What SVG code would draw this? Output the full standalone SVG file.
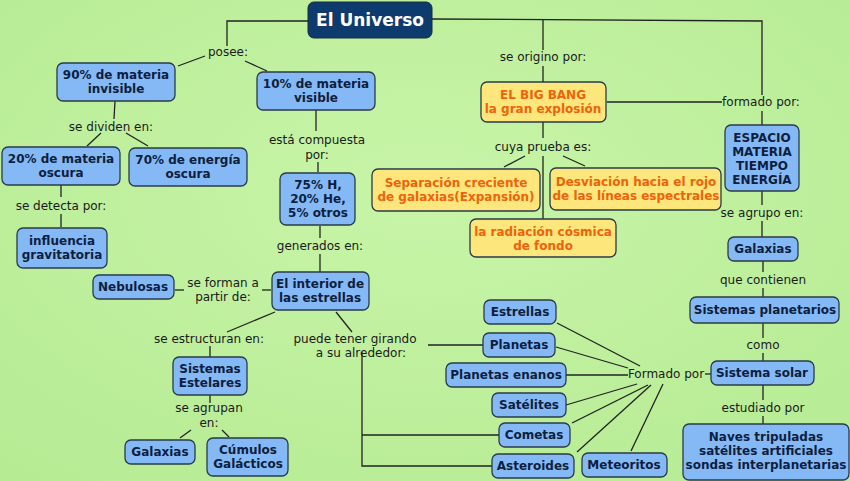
<svg xmlns="http://www.w3.org/2000/svg" width="850" height="481" viewBox="0 0 850 481">
<defs>
<radialGradient id="bg" cx="0.5" cy="0.4" r="0.8"><stop offset="0" stop-color="#c8f5a8"/><stop offset="1" stop-color="#b5ea92"/></radialGradient>
<style>
.n{fill:#84b9f6;stroke:#2a3a4a;stroke-width:1.3}
.y{fill:#fde77c;stroke:#2a3a4a;stroke-width:1.3}
.t{font-family:"DejaVu Sans",Verdana,sans-serif;font-weight:bold;font-size:12px;fill:#0e1e3e;text-anchor:middle}
.o{font-family:"DejaVu Sans",Verdana,sans-serif;font-weight:bold;font-size:12px;fill:#f0620a;text-anchor:middle}
.l{font-family:"DejaVu Sans",Verdana,sans-serif;font-size:12px;fill:#1a1a1a;text-anchor:middle}
#c line,#c polyline{stroke:#222;stroke-width:1.3;fill:none}
</style>
</defs>
<rect width="850" height="481" fill="url(#bg)"/>
<g id="c">
<polyline points="308,21 227,21 227,46"/>
<line x1="205" y1="56" x2="178" y2="66"/>
<line x1="245" y1="61" x2="267" y2="71"/>
<polyline points="432,19 762,21 762,95"/>
<line x1="543" y1="19" x2="543" y2="50"/>
<line x1="543" y1="66" x2="543" y2="82"/>
<line x1="607" y1="102" x2="722" y2="102"/>
<line x1="762" y1="111" x2="762" y2="125"/>
<line x1="543" y1="122" x2="543" y2="138"/>
<line x1="525" y1="156" x2="504" y2="167"/>
<line x1="563" y1="156" x2="585" y2="166"/>
<line x1="543" y1="156" x2="543" y2="219"/>
<line x1="115" y1="101" x2="114" y2="119"/>
<line x1="101" y1="133" x2="87" y2="146"/>
<line x1="126" y1="133" x2="148" y2="146"/>
<line x1="61" y1="185" x2="61" y2="197"/>
<line x1="61" y1="214" x2="61" y2="227"/>
<line x1="316" y1="110" x2="316" y2="131"/>
<line x1="318" y1="162" x2="318" y2="172"/>
<line x1="320" y1="226" x2="320" y2="238"/>
<line x1="320" y1="254" x2="320" y2="272"/>
<line x1="175" y1="290" x2="184" y2="290"/>
<line x1="262" y1="290" x2="271" y2="290"/>
<line x1="275" y1="312" x2="227" y2="332"/>
<line x1="210" y1="346" x2="210" y2="357"/>
<line x1="336" y1="312" x2="352" y2="332"/>
<line x1="210" y1="395" x2="210" y2="403"/>
<line x1="191" y1="430" x2="180" y2="438"/>
<line x1="222" y1="430" x2="229" y2="437"/>
<line x1="428" y1="345" x2="483" y2="345"/>
<polyline points="362,352 362,466 492,466"/>
<line x1="362" y1="435" x2="499" y2="435"/>
<line x1="557" y1="323" x2="640" y2="366"/>
<line x1="556" y1="347" x2="628" y2="368"/>
<line x1="566" y1="375" x2="628" y2="375"/>
<line x1="566" y1="405" x2="637" y2="384"/>
<line x1="572" y1="423" x2="648" y2="385"/>
<line x1="577" y1="452" x2="651" y2="385"/>
<line x1="631" y1="451" x2="663" y2="384"/>
<line x1="705" y1="374" x2="711" y2="374"/>
<line x1="762" y1="191" x2="762" y2="205"/>
<line x1="762" y1="221" x2="762" y2="237"/>
<line x1="763" y1="261" x2="763" y2="272"/>
<line x1="763" y1="288" x2="763" y2="297"/>
<line x1="763" y1="323" x2="763" y2="338"/>
<line x1="763" y1="353" x2="763" y2="361"/>
<line x1="763" y1="385" x2="763" y2="400"/>
<line x1="763" y1="416" x2="763" y2="424"/>
</g>
<g id="labels">
<text class="l" x="228" y="56">posee:</text>
<text class="l" x="111" y="131">se dividen en:</text>
<text class="l" x="61" y="210">se detecta por:</text>
<text class="l" x="317" y="144">está compuesta</text>
<text class="l" x="317" y="159">por:</text>
<text class="l" x="320" y="250">generados en:</text>
<text class="l" x="223" y="287">se forman a</text>
<text class="l" x="223" y="301">partir de:</text>
<text class="l" x="209" y="343">se estructuran en:</text>
<text class="l" x="355" y="343">puede tener girando</text>
<text class="l" x="361" y="357">a su alrededor:</text>
<text class="l" x="209" y="412">se agrupan</text>
<text class="l" x="209" y="427">en:</text>
<text class="l" x="543" y="61">se origino por:</text>
<text class="l" x="543" y="151">cuya prueba es:</text>
<text class="l" x="761" y="106">formado por:</text>
<text class="l" x="762" y="217">se agrupo en:</text>
<text class="l" x="763" y="284">que contienen</text>
<text class="l" x="763" y="349">como</text>
<text class="l" x="763" y="412">estudiado por</text>
<text class="l" x="666" y="378">Formado por</text>
</g>
<g id="universo"><rect x="308" y="2" width="124" height="36" rx="6" fill="#0d3b6e" stroke="#1a2a3a"/><text x="370" y="26" font-family="DejaVu Sans,Verdana,sans-serif" font-weight="bold" font-size="17" fill="#fff" text-anchor="middle">El Universo</text></g>
<g id="n90"><rect class="n" x="57" y="63" width="118" height="38" rx="6"/><text class="t" x="116" y="79">90% de materia</text><text class="t" x="116" y="93">invisible</text></g>
<g id="n10"><rect class="n" x="257" y="72" width="118" height="38" rx="6"/><text class="t" x="316" y="88">10% de materia</text><text class="t" x="316" y="102">visible</text></g>
<g id="n20"><rect class="n" x="2" y="147" width="118" height="38" rx="6"/><text class="t" x="61" y="163">20% de materia</text><text class="t" x="61" y="177">oscura</text></g>
<g id="n70"><rect class="n" x="129" y="148" width="118" height="38" rx="6"/><text class="t" x="188" y="164">70% de energía</text><text class="t" x="188" y="178">oscura</text></g>
<g id="grav"><rect class="n" x="17" y="228" width="90" height="40" rx="6"/><text class="t" x="62" y="245">influencia</text><text class="t" x="62" y="259">gravitatoria</text></g>
<g id="h"><rect class="n" x="280" y="173" width="75" height="52" rx="6"/><text class="t" x="318" y="189">75% H,</text><text class="t" x="318" y="203">20% He,</text><text class="t" x="318" y="217">5% otros</text></g>
<g id="interior"><rect class="n" x="272" y="272" width="97" height="38" rx="6"/><text class="t" x="320" y="288">El interior de</text><text class="t" x="320" y="302">las estrellas</text></g>
<g id="nebulosas"><rect class="n" x="93" y="275" width="81" height="24" rx="6"/><text class="t" x="133" y="291">Nebulosas</text></g>
<g id="estelares"><rect class="n" x="173" y="357" width="74" height="38" rx="6"/><text class="t" x="210" y="373">Sistemas</text><text class="t" x="210" y="387">Estelares</text></g>
<g id="galaxias1"><rect class="n" x="125" y="440" width="70" height="24" rx="6"/><text class="t" x="160" y="456">Galaxias</text></g>
<g id="cumulos"><rect class="n" x="207" y="438" width="81" height="38" rx="6"/><text class="t" x="248" y="454">Cúmulos</text><text class="t" x="248" y="468">Galácticos</text></g>
<g id="bigbang"><rect class="y" x="481" y="82" width="125" height="40" rx="6"/><text class="o" x="543" y="99">EL BIG BANG</text><text class="o" x="543" y="113">la gran explosión</text></g>
<g id="separacion"><rect class="y" x="372" y="169" width="168" height="42" rx="6"/><text class="o" x="456" y="187">Separación creciente</text><text class="o" x="456" y="201">de galaxias(Expansión)</text></g>
<g id="desviacion"><rect class="y" x="550" y="168" width="171" height="42" rx="6"/><text class="o" x="636" y="186">Desviación hacia el rojo</text><text class="o" x="636" y="200">de las líneas espectrales</text></g>
<g id="radiacion"><rect class="y" x="470" y="219" width="146" height="38" rx="6"/><text class="o" x="543" y="236">la radiación cósmica</text><text class="o" x="543" y="250">de fondo</text></g>
<g id="espacio"><rect class="n" x="725" y="125" width="74" height="66" rx="6"/><text class="t" x="762" y="142">ESPACIO</text><text class="t" x="762" y="156">MATERIA</text><text class="t" x="762" y="170">TIEMPO</text><text class="t" x="762" y="184">ENERGÍA</text></g>
<g id="galaxias2"><rect class="n" x="728" y="237" width="70" height="24" rx="6"/><text class="t" x="763" y="253">Galaxias</text></g>
<g id="planetarios"><rect class="n" x="690" y="297" width="149" height="26" rx="6"/><text class="t" x="765" y="314">Sistemas planetarios</text></g>
<g id="solar"><rect class="n" x="711" y="361" width="103" height="24" rx="6"/><text class="t" x="762" y="377">Sistema solar</text></g>
<g id="naves"><rect class="n" x="683" y="424" width="166" height="56" rx="6"/><text class="t" x="766" y="441">Naves tripuladas</text><text class="t" x="766" y="455">satélites artificiales</text><text class="t" x="766" y="469">sondas interplanetarias</text></g>
<g id="estrellas"><rect class="n" x="484" y="300" width="72" height="24" rx="6"/><text class="t" x="520" y="316">Estrellas</text></g>
<g id="planetas"><rect class="n" x="483" y="333" width="72" height="24" rx="6"/><text class="t" x="519" y="349">Planetas</text></g>
<g id="enanos"><rect class="n" x="446" y="363" width="120" height="24" rx="6"/><text class="t" x="506" y="379">Planetas enanos</text></g>
<g id="satelites"><rect class="n" x="492" y="393" width="74" height="24" rx="6"/><text class="t" x="529" y="409">Satélites</text></g>
<g id="cometas"><rect class="n" x="499" y="423" width="71" height="24" rx="6"/><text class="t" x="534" y="439">Cometas</text></g>
<g id="asteroides"><rect class="n" x="492" y="454" width="82" height="24" rx="6"/><text class="t" x="533" y="470">Asteroides</text></g>
<g id="meteoritos"><rect class="n" x="582" y="453" width="85" height="24" rx="6"/><text class="t" x="624" y="469">Meteoritos</text></g>
</svg>
